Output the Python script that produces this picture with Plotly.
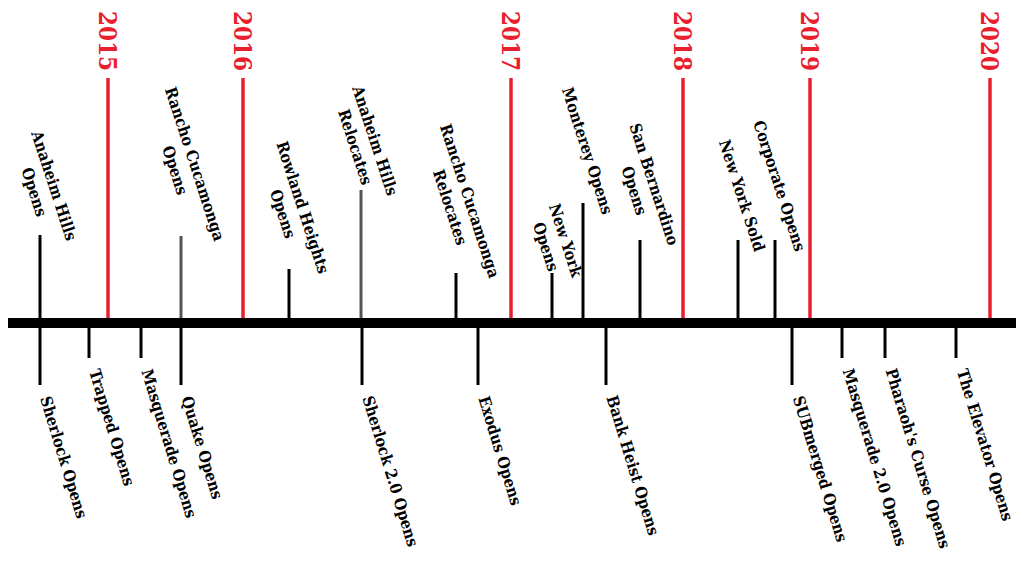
import plotly.graph_objects as go

# Years (position along the timeline axis)
years = ["2015", "2016", "2017", "2018", "2019", "2020"]
year_pos = [108, 243, 511, 683, 810, 990]

# Events above the line: label, position, stem height, tone
up_labels = ["Anaheim Hills<br>Opens", "Rancho Cucamonga<br>Opens", "Rowland Heights<br>Opens",
             "Anaheim Hills<br>Relocates", "Rancho Cucamonga<br>Relocates", "New York<br>Opens",
             "Monterey Opens", "San Bernardino<br>Opens", "New York Sold", "Corporate Opens"]
up_pos = [40, 181, 289, 361, 456, 552, 583, 640, 738, 775]
up_height = [88, 87, 54, 133, 50, 50, 120, 83, 83, 83]
up_gray = [False, True, False, True, False, False, False, False, False, False]

# Events below the line
down_labels = ["Sherlock Opens", "Trapped Opens", "Masquerade Opens", "Quake Opens",
               "Sherlock 2.0 Opens", "Exodus Opens", "Bank Heist Opens", "SUBmerged Opens",
               "Masquerade 2.0 Opens", "Pharaoh's Curse Opens", "The Elevator Opens"]
down_pos = [40, 89, 141, 181, 362, 478, 606, 792, 842, 885, 956]
down_depth = [62, 35, 35, 62, 62, 62, 62, 62, 35, 35, 35]

BASE = 320
FONT = "DejaVu Serif Condensed, DejaVu Serif, serif"
RED = "#e8202e"
OFF = 8  # page offset compensation

fig = go.Figure()

def seg(xs, y0s, y1s):
    X, Y = [], []
    for x, a, b in zip(xs, y0s, y1s):
        X += [x, x, None]; Y += [a, b, None]
    return X, Y

X, Y = seg(year_pos, [75] * len(year_pos), [BASE] * len(year_pos))
fig.add_trace(go.Scatter(x=X, y=Y, mode="lines", line=dict(color=RED, width=3.5), hoverinfo="skip"))

for gray in (False, True):
    xs = [p for p, g in zip(up_pos, up_gray) if g == gray]
    hs = [h for h, g in zip(up_height, up_gray) if g == gray]
    X, Y = seg(xs, [BASE - h for h in hs], [BASE] * len(xs))
    fig.add_trace(go.Scatter(x=X, y=Y, mode="lines",
                             line=dict(color="#555555" if gray else "black", width=3), hoverinfo="skip"))

X, Y = seg(down_pos, [BASE] * len(down_pos), [BASE + d for d in down_depth])
fig.add_trace(go.Scatter(x=X, y=Y, mode="lines", line=dict(color="black", width=3), hoverinfo="skip"))

fig.add_trace(go.Scatter(x=[-20, 1060], y=[BASE, BASE], mode="lines",
                         line=dict(color="black", width=10), hoverinfo="skip"))

anns = []
for t, p in zip(years, year_pos):
    anns.append(dict(x=p, y=6, text=t, textangle=90, showarrow=False, xanchor="center", yanchor="top",
                     font=dict(family=FONT, size=24, color=RED, weight="bold")))
for t, p, h in zip(up_labels, up_pos, up_height):
    anns.append(dict(x=p + 4, y=BASE - h + 16, text=t, textangle=72, showarrow=False,
                     xanchor="center", yanchor="bottom",
                     font=dict(family=FONT, size=16, color="black", weight="bold")))
for t, p, d in zip(down_labels, down_pos, down_depth):
    anns.append(dict(x=p - 6, y=BASE + d + 6, text=t, textangle=73, showarrow=False,
                     xanchor="left", yanchor="top",
                     font=dict(family=FONT, size=16, color="black", weight="bold")))

fig.update_layout(width=1024, height=576, margin=dict(l=0, r=0, t=0, b=0),
                  paper_bgcolor="white", plot_bgcolor="white", showlegend=False,
                  xaxis=dict(range=[OFF, 1024 + OFF], visible=False, fixedrange=True),
                  yaxis=dict(range=[576 + 5, 5], visible=False, fixedrange=True),
                  annotations=anns)
fig.write_html("out.html")
